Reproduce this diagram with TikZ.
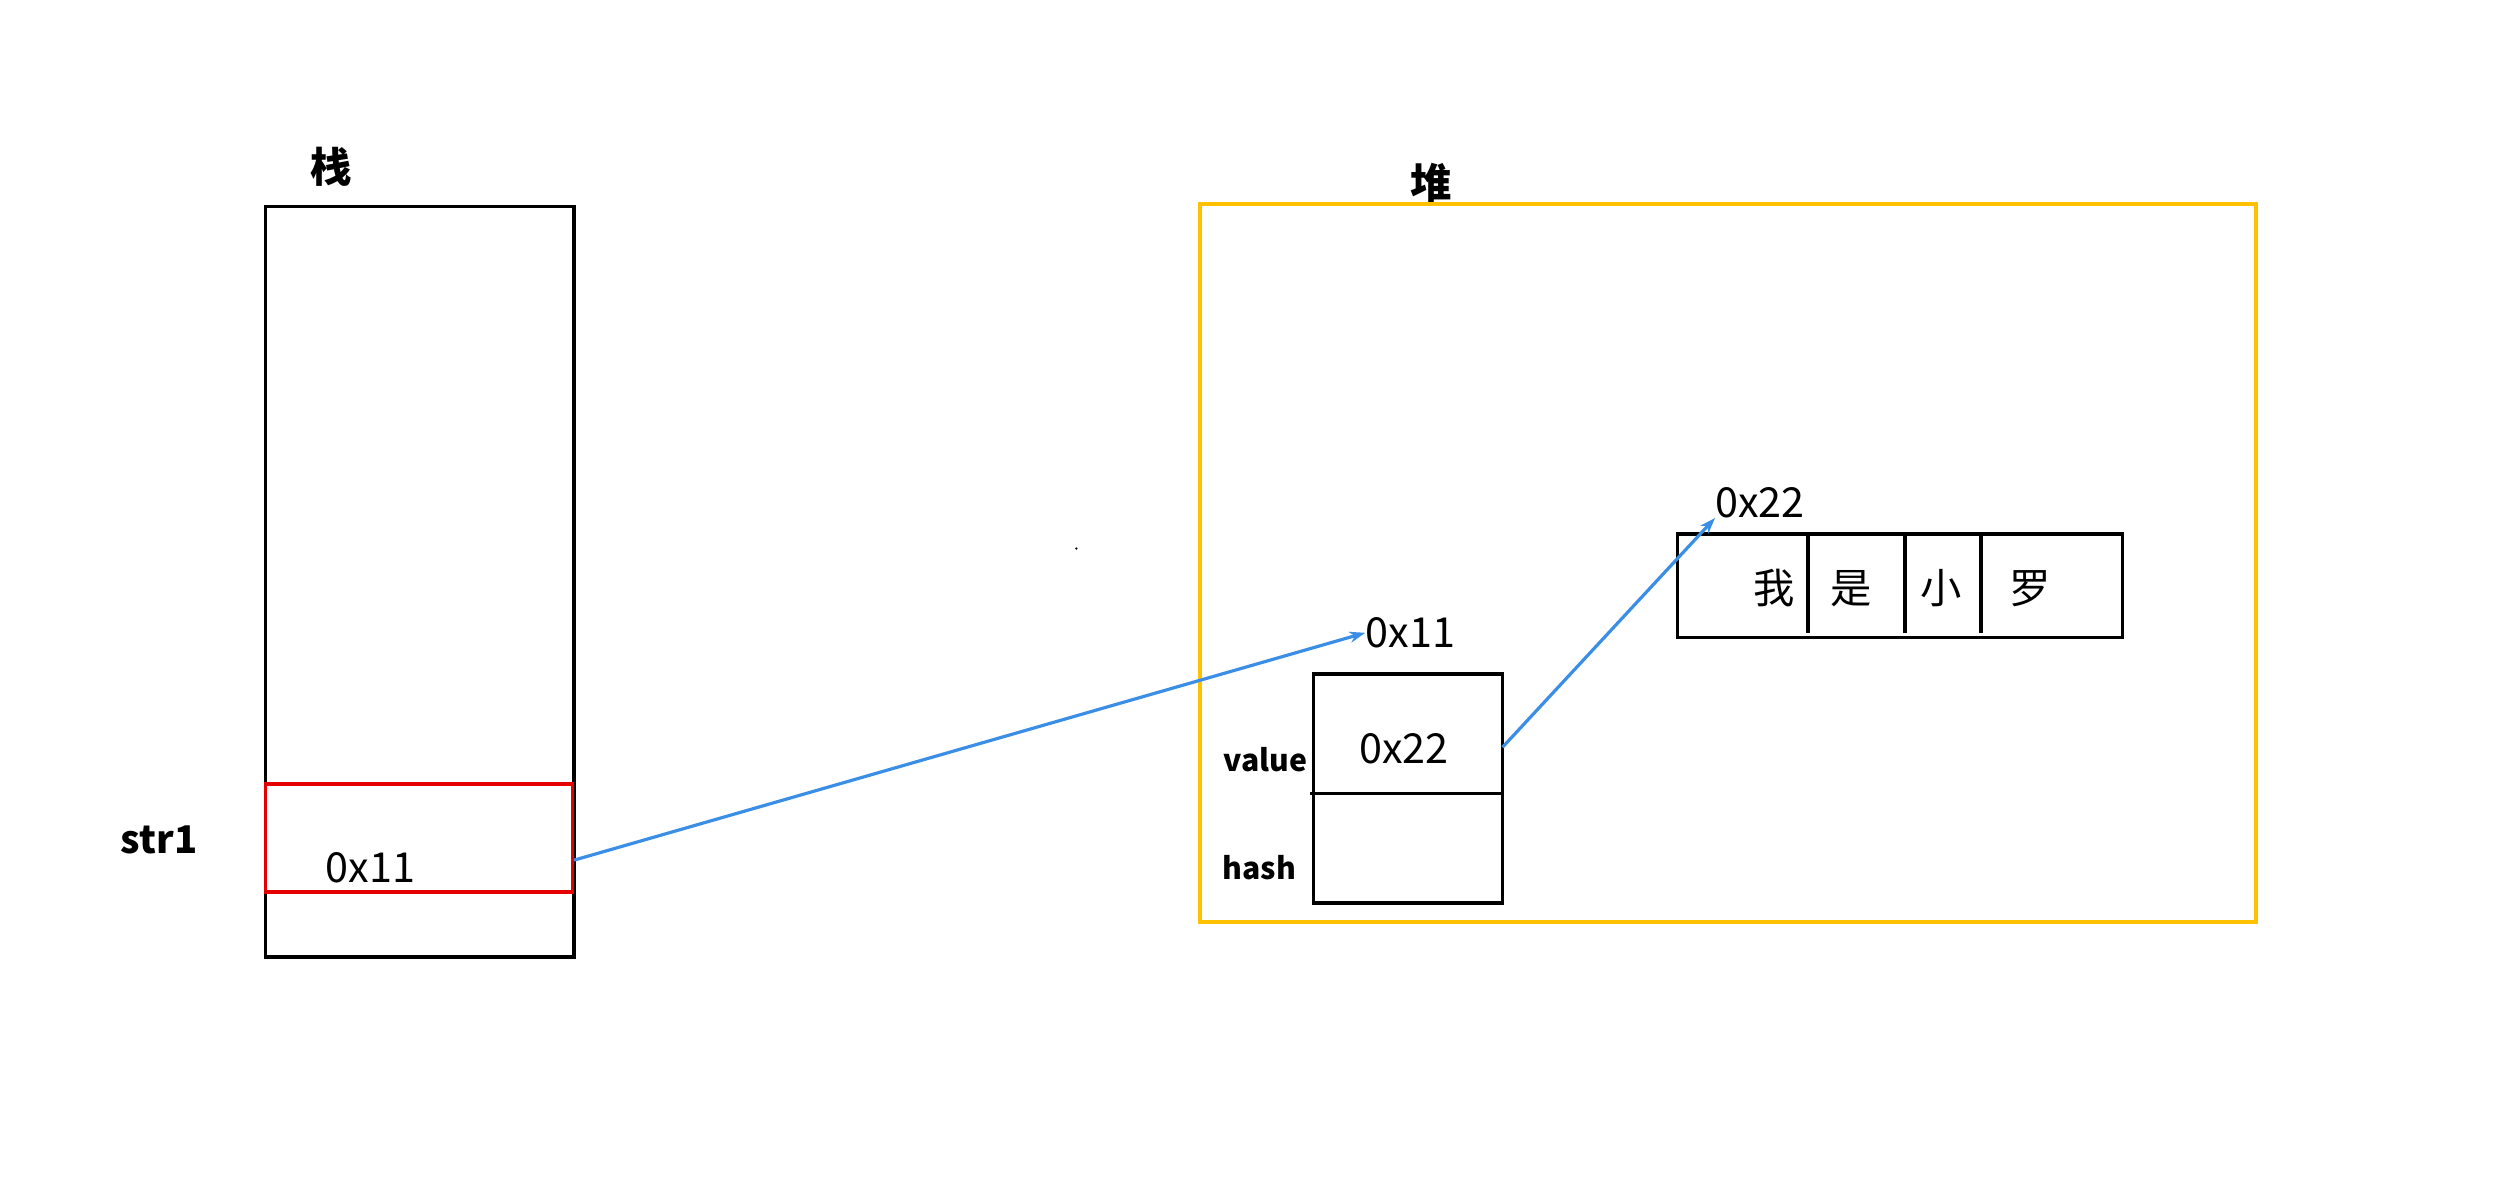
\documentclass[tikz,border=0pt]{standalone}
\usepackage{fontspec}
\setmainfont{Noto Sans CJK SC}
\usetikzlibrary{arrows.meta}
\definecolor{ablue}{HTML}{3A8EE6}
\definecolor{ayel}{HTML}{FFC000}
\tikzset{box/.style={draw=black,line width=2.2pt},
 lab/.style={font=\fontsize{26}{30}\selectfont,inner sep=0pt},
 blab/.style={font=\fontsize{19}{22}\selectfont\bfseries,inner sep=0pt},
 cjkb/.style={font=\fontsize{26}{30}\selectfont\bfseries,inner sep=0pt},
 arr/.style={draw=ablue,line width=2pt,-{Stealth[length=10pt,width=7pt]}}}
\begin{document}
\begin{tikzpicture}[x=1pt,y=-1pt]
\useasboundingbox (0,0) rectangle (1568,740);
\fill[white] (0,0) rectangle (1568,740);
\node[cjkb] (zhan) at (208,105) {栈};
\draw[box] (167,130) rectangle (361,602);
\draw[draw=red!90!black,line width=2.2pt] (167,493) rectangle (360,561);
\node[blab,font=\fontsize{24}{28}\selectfont\bfseries] (str1) at (100,528) {str1};
\node[lab] (v11) at (233,546) {0x11};
\coordinate (s) at (361,541);
\fill (677,345) circle (0.8);
\draw[draw=ayel,line width=2.5pt] (755,128) rectangle (1419,580);
\node[cjkb] (dui) at (900,115) {堆};
\draw[box] (826,424) rectangle (945,568);
\draw[box] (824,499) -- (946,499);
\node[blab] (value) at (796,478) {value};
\node[blab] (hash) at (792,546) {hash};
\node[lab] (v22) at (883,471) {0x22};
\node[lab] (a11) at (887,398) {0x11};
\node[lab] (a22) at (1107,316) {0x22};
\draw[box] (1055,336) rectangle (1335,401);
\foreach \x in {1137,1198,1246} \draw[box] (\x,336) -- (\x,398);
\node[lab] (c1) at (1116,370) {我};
\node[lab] (c2) at (1164,370) {是};
\node[lab] (c3) at (1221,370) {小};
\node[lab] (c4) at (1277,370) {罗};
\coordinate (e1) at (945,470);
\draw[arr] (s) -- (a11.west);
\draw[arr] (e1) -- (a22.south west);
\end{tikzpicture}
\end{document}
